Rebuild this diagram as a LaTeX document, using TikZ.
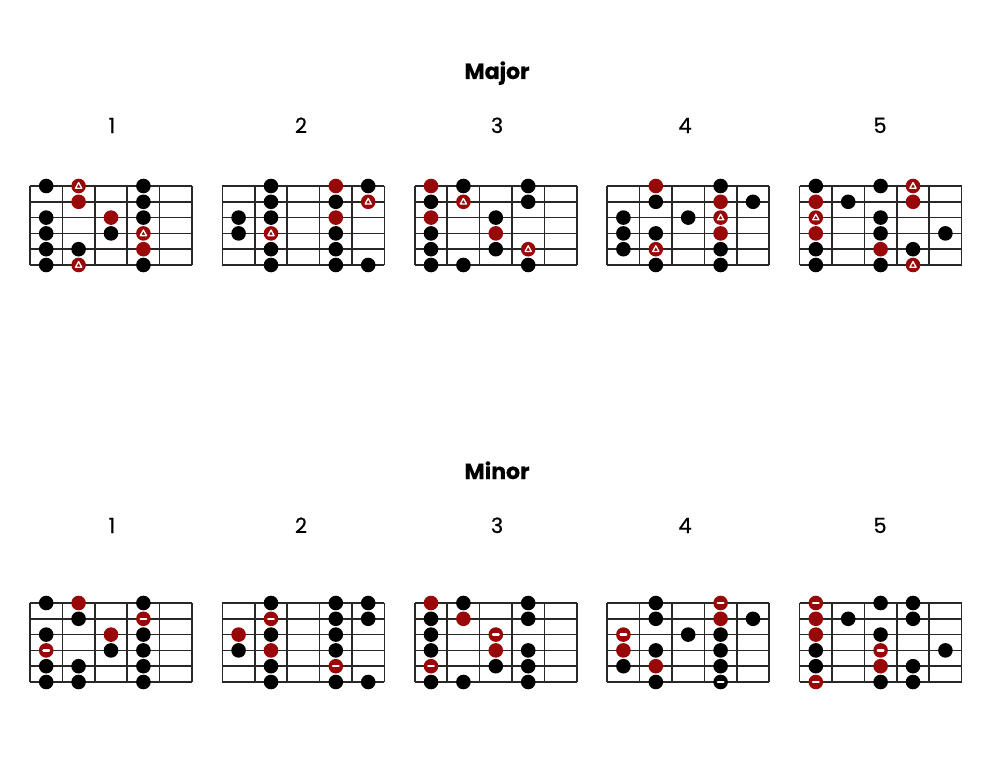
\documentclass[tikz,border=0pt]{standalone}
\usepackage{fontspec}
\setmainfont{Poppins}
\newfontface\titleface{Poppins Bold}[FakeBold=0.6]
\newfontface\numface{Poppins}[FakeBold=0.5]
\usepackage{tikz}
\usetikzlibrary{calc}

\definecolor{rootred}{RGB}{152,8,8}
\definecolor{fretgray}{RGB}{40,40,40}

\tikzset{
  gridline/.style={fretgray, line width=1.5pt},
  titletext/.style={anchor=base, font=\fontsize{22}{24}\selectfont\titleface},
  numtext/.style={anchor=base, font=\fontsize{21}{23}\selectfont\numface},
  dotB/.pic={\fill[black] (0,0) circle (7.3pt);},
  dotR/.pic={\fill[rootred] (0,0) circle (7.3pt);},
  dotT/.pic={\fill[rootred] (0,0) circle (7.3pt);
    \draw[white, line width=1.3pt, line join=round] (0,-3.4) -- (3.1,2.2) -- (-3.1,2.2) -- cycle;},
  dotM/.pic={\fill[rootred] (0,0) circle (7.3pt);
    \draw[white, line width=2.4pt, line cap=round] (-2.8,0) -- (2.8,0);},
  dotN/.pic={\fill[black] (0,0) circle (7.3pt);
    \draw[white, line width=2.4pt, line cap=round] (-2.8,0) -- (2.8,0);}
}

% one box: left x, top y, list of fret/string/kind
\newcommand{\fretbox}[3]{%
  \foreach \s in {0,...,5} \draw[gridline] (#1,#2+\s*15.8) -- ++(162,0);
  \foreach \f in {0,...,5} \draw[gridline] (#1+\f*32.4,#2) -- ++(0,79);
  \foreach \c/\r/\k in {#3} \pic at (#1+\c*32.4-16.2,#2+\r*15.8-15.8) {dot\k};
}

\begin{document}
\begin{tikzpicture}[x=1pt, y=-1pt] % pixel units, y down

    \useasboundingbox (0,0) rectangle (1000,773);

    % 1. titles
    \node[titletext] (major) at (497,79) {Major};
    \node[titletext] (minor) at (497,479) {Minor};
    \foreach \n/\x in {1/112,2/301,3/497,4/685,5/880} {
      \node[numtext] (maj\n) at (\x,133) {\n};
      \node[numtext] (min\n) at (\x,533) {\n};
    }

    % 2. major shapes
    \fretbox{30}{186}{1/1/B,2/1/T,4/1/B, 2/2/R,4/2/B, 1/3/B,3/3/R,4/3/B,
      1/4/B,3/4/B,4/4/T, 1/5/B,2/5/B,4/5/R, 1/6/B,2/6/T,4/6/B}
    \fretbox{222.4}{186}{2/1/B,4/1/R,5/1/B, 2/2/B,4/2/B,5/2/T, 1/3/B,2/3/B,4/3/R,
      1/4/B,2/4/T,4/4/B, 2/5/B,4/5/B, 2/6/B,4/6/B,5/6/B}
    \fretbox{414.8}{186}{1/1/R,2/1/B,4/1/B, 1/2/B,2/2/T,4/2/B, 1/3/R,3/3/B,
      1/4/B,3/4/R, 1/5/B,3/5/B,4/5/T, 1/6/B,2/6/B,4/6/B}
    \fretbox{607.2}{186}{2/1/R,4/1/B, 2/2/B,4/2/R,5/2/B, 1/3/B,3/3/B,4/3/T,
      1/4/B,2/4/B,4/4/R, 1/5/B,2/5/T,4/5/B, 2/6/B,4/6/B}
    \fretbox{799.6}{186}{1/1/B,3/1/B,4/1/T, 1/2/R,2/2/B,4/2/R, 1/3/T,3/3/B,
      1/4/R,3/4/B,5/4/B, 1/5/B,3/5/R,4/5/B, 1/6/B,3/6/B,4/6/T}

    % 3. minor shapes
    \fretbox{30}{603}{1/1/B,2/1/R,4/1/B, 2/2/B,4/2/M, 1/3/B,3/3/R,4/3/B,
      1/4/M,3/4/B,4/4/B, 1/5/B,2/5/B,4/5/B, 1/6/B,2/6/B,4/6/B}
    \fretbox{222.4}{603}{2/1/B,4/1/B,5/1/B, 2/2/M,4/2/B,5/2/B, 1/3/R,2/3/B,4/3/B,
      1/4/B,2/4/R,4/4/B, 2/5/B,4/5/M, 2/6/B,4/6/B,5/6/B}
    \fretbox{414.8}{603}{1/1/R,2/1/B,4/1/B, 1/2/B,2/2/R,4/2/B, 1/3/B,3/3/M,
      1/4/B,3/4/R,4/4/B, 1/5/M,3/5/B,4/5/B, 1/6/B,2/6/B,4/6/B}
    \fretbox{607.2}{603}{2/1/B,4/1/M, 2/2/B,4/2/R,5/2/B, 1/3/M,3/3/B,4/3/B,
      1/4/R,2/4/B,4/4/B, 1/5/B,2/5/R,4/5/B, 2/6/B,4/6/N}
    \fretbox{799.6}{603}{1/1/M,3/1/B,4/1/B, 1/2/R,2/2/B,4/2/B, 1/3/R,3/3/B,
      1/4/B,3/4/M,5/4/B, 1/5/B,3/5/R,4/5/B, 1/6/M,3/6/B,4/6/B}

\end{tikzpicture}
\end{document}
